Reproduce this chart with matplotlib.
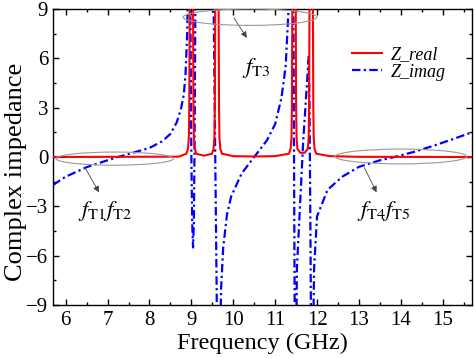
import matplotlib
matplotlib.use("Agg")
import matplotlib.pyplot as plt
from matplotlib.patches import Ellipse
from matplotlib.ticker import MultipleLocator

# Z_real (red)
real_freq = [5.70, 8.70, 8.88, 8.92, 8.94, 8.95, 8.955, 8.96, 8.97, 9.00, 9.03, 9.04, 9.045,
             9.05, 9.06, 9.08, 9.12, 9.30, 9.49, 9.53, 9.55, 9.56, 9.565, 9.57, 9.58, 9.61,
             9.64, 9.65, 9.655, 9.66, 9.67, 9.69, 9.73, 10.0, 10.5, 11.0, 11.33, 11.37, 11.39,
             11.40, 11.405, 11.41, 11.42, 11.45, 11.48, 11.49, 11.495, 11.50, 11.51, 11.53,
             11.60, 11.70, 11.78, 11.80, 11.81, 11.815, 11.82, 11.83, 11.86, 11.89,
             11.90, 11.905, 11.91, 11.92, 11.94, 11.98, 12.3, 13.0, 15.7]
real_vals = [0.0, 0.02, 0.2, 0.5, 1.2, 3.0, 6.0, 10.0, 20.0, 40.0, 20.0, 10.0, 6.0,
             3.0, 1.2, 0.5, 0.2, 0.08, 0.2, 0.5, 1.2, 3.0, 6.0, 10.0, 20.0, 40.0,
             20.0, 10.0, 6.0, 3.0, 1.2, 0.5, 0.2, 0.05, 0.03, 0.05, 0.2, 0.5, 1.2,
             3.0, 6.0, 10.0, 20.0, 40.0, 20.0, 10.0, 6.0, 3.0, 1.2, 0.5,
             0.25, 0.25, 0.5, 1.2, 3.0, 6.0, 10.0, 20.0, 40.0, 20.0,
             10.0, 6.0, 3.0, 1.2, 0.5, 0.2, 0.05, 0.01, 0.0]

# Z_imag (blue)
imag_freq = [5.70, 6.00, 6.50, 7.00, 7.25, 7.50, 8.00, 8.30, 8.50, 8.65, 8.75, 8.82, 8.86, 8.90,
             8.93, 8.96, 8.98, 9.00, 9.02, 9.04, 9.06, 9.08, 9.10, 9.14, 9.48, 9.52, 9.57, 9.62,
             9.64, 9.68, 9.71, 9.76, 9.85, 9.95, 10.2, 10.5, 10.8, 11.0, 11.15, 11.25, 11.32,
             11.36, 11.40, 11.43, 11.45, 11.47, 11.48, 11.50, 11.52, 11.60, 11.67, 11.76, 11.80,
             11.82, 11.84, 11.86, 11.88, 11.90, 11.93, 12.0, 12.25, 12.6, 13.0, 13.5, 13.85,
             14.3, 14.8, 15.2, 15.7]
imag_vals = [-1.70, -1.20, -0.62, -0.20, 0.0, 0.18, 0.55, 0.95, 1.40, 2.10, 2.90, 3.80, 5.0, 7.5,
             12.0, 20.0, 8.0, 0.0, -4.0, -5.5, -4.0, 2.0, 12.0, 25.0, 25.0, 12.0, 0.0, -12.0,
             -40.0, -12.0, -8.0, -5.5, -3.5, -2.4, -1.0, 0.0, 1.0, 2.0, 3.6, 5.5, 9.0,
             14.0, 25.0, 12.0, 0.0, -12.0, -30.0, -12.0, -6.7, -2.6, 1.0, 4.5, 6.1,
             3.0, -4.0, -12.0, -20.0, -12.0, -6.7, -3.6, -2.0, -1.2, -0.6, -0.2, 0.0,
             0.3, 0.7, 1.05, 1.5]

plt.rcParams["font.family"] = "Liberation Serif"
plt.rcParams["mathtext.fontset"] = "stix"

fig = plt.figure(figsize=(4.74, 3.58), dpi=100)
ax = fig.add_axes([0.112, 0.148, 0.884, 0.827])

ax.plot(real_freq, real_vals, color="#ff0000", lw=1.5, label="Z_real", zorder=3)
ax.plot(imag_freq, imag_vals, color="#0000ff", lw=1.6, ls=(0, (3.8, 1.5, 1, 1.5)),
        label="Z_imag", zorder=2)

ax.set_xlim(5.7, 15.7)
ax.set_ylim(-9, 9)
ax.xaxis.set_major_locator(MultipleLocator(1))
ax.xaxis.set_minor_locator(MultipleLocator(0.5))
ax.yaxis.set_major_locator(MultipleLocator(3))
ax.yaxis.set_minor_locator(MultipleLocator(1.5))
ax.tick_params(which="both", direction="in", top=True, right=True, width=1.0)
ax.tick_params(which="major", length=4, labelsize=15)
ax.tick_params(axis="x", which="major", pad=4)
ax.tick_params(which="minor", length=2.5)
for s in ax.spines.values():
    s.set_linewidth(1.0)

ax.set_xlabel("Frequency (GHz)", fontsize=17.5, labelpad=2)
ax.set_ylabel("Complex impedance", fontsize=19)
ax.yaxis.set_label_coords(-0.062, 0.45)

# circled regions
ell_kw = dict(fill=False, edgecolor="#999999", lw=0.8, zorder=4)
ax.add_patch(Ellipse((7.17, -0.1), 2.8, 0.8, **ell_kw))
ax.add_patch(Ellipse((14.0, 0.03), 3.14, 0.9, **ell_kw))
ax.add_patch(Ellipse((10.4, 8.5), 3.19, 1.0, **ell_kw))

arr = dict(arrowstyle="-|>", color="#444444", lw=0.6, mutation_scale=9)
ax.annotate("", xy=(6.83, -2.3), xytext=(6.43, -0.5), arrowprops=arr)
ax.annotate("", xy=(13.45, -2.3), xytext=(13.1, -0.5), arrowprops=arr)
ax.annotate("", xy=(10.36, 7.1), xytext=(9.98, 8.6), arrowprops=arr)

ax.text(6.95, -3.3, r"$f_{\rm T1}f_{\rm T2}$", fontsize=16.5, ha="center", va="center")
ax.text(13.6, -3.3, r"$f_{\rm T4}f_{\rm T5}$", fontsize=16.5, ha="center", va="center")
ax.text(10.55, 5.4, r"$f_{\rm T3}$", fontsize=16.5, ha="center", va="center")

leg = ax.legend(loc="upper right", bbox_to_anchor=(0.975, 0.928), frameon=False,
                prop={"family": "Liberation Serif", "style": "italic", "size": 13},
                handlelength=1.7, handletextpad=0.45, labelspacing=0.0)

fig.savefig("out.png", dpi=100)
